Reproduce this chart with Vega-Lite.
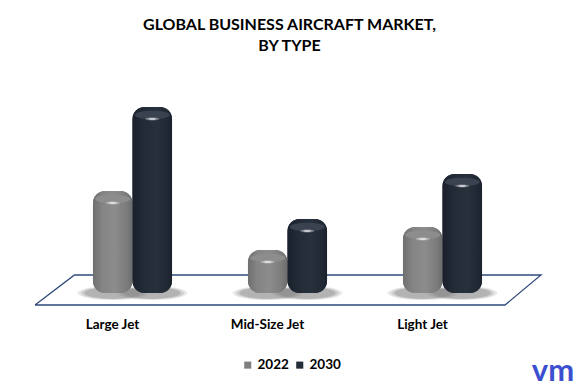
{
"$schema":"https://vega.github.io/schema/vega-lite/v6.json",
"width":579,"height":210,
"autosize":"none",
"padding":{"left":0,"right":0,"top":95,"bottom":83},
"background":"white",
"config":{"view":{"stroke":null},"font":"Lato"},
"title":{"text":["GLOBAL BUSINESS AIRCRAFT MARKET,","BY TYPE"],"font":"Lato","fontSize":16,"fontWeight":"bold","color":"#000000","anchor":"middle","lineHeight":21,"offset":41,"dx":0},
"datasets":{
"bars":[
{"type":"Large Jet","year":"2022","value":10.2},
{"type":"Large Jet","year":"2030","value":18.6},
{"type":"Mid-Size Jet","year":"2022","value":4.3},
{"type":"Mid-Size Jet","year":"2030","value":7.4},
{"type":"Light Jet","year":"2022","value":6.6},
{"type":"Light Jet","year":"2030","value":11.9}],
"floor":[
{"fx":35,"fy":-1.2,"k":0},{"fx":74.5,"fy":1.8,"k":1},{"fx":541,"fy":1.8,"k":2},{"fx":505,"fy":-1.2,"k":3},{"fx":35,"fy":-1.2,"k":4}],
"logo":[{"fx":553,"fy":-8.8,"t":"vm"}]
},
"resolve":{"scale":{"x":"independent"}},
"layer":[
{"data":{"name":"floor"},"mark":{"type":"line","color":"#2f4b7c","strokeWidth":1.3,"clip":false},
"encoding":{"x":{"field":"fx","type":"quantitative","scale":{"domain":[0,579],"range":[0,579],"nice":false,"zero":false},"axis":null},
"y":{"field":"fy","type":"quantitative","scale":{"domain":[-1.2,19.8],"nice":false,"zero":false},"axis":null},
"order":{"field":"k","type":"ordinal"}}},
{"data":{"name":"logo"},"mark":{"type":"text","color":"#3b4fd0","font":"Lato","fontSize":31,"fontWeight":"bold","clip":false,"baseline":"alphabetic"},
"encoding":{"x":{"field":"fx","type":"quantitative","scale":{"domain":[0,579],"range":[0,579],"nice":false,"zero":false},"axis":null},
"y":{"field":"fy","type":"quantitative","scale":{"domain":[-1.2,19.8],"nice":false,"zero":false},"axis":null},
"text":{"field":"t","type":"nominal"}}},
{"data":{"name":"bars"},
"encoding":{
"x":{"field":"type","type":"nominal","sort":["Large Jet","Mid-Size Jet","Light Jet"],
"scale":{"range":[55,520],"paddingInner":0.49,"paddingOuter":0.245},
"axis":{"title":null,"labelAngle":0,"labelOffset":-20,"labelPadding":12,"labelFontSize":13.5,"labelFontWeight":"bold","labelColor":"#000000","labelFont":"Lato","domain":false,"ticks":false}},
"xOffset":{"field":"year","type":"nominal","sort":["2022","2030"]},
"y":{"field":"value","type":"quantitative","scale":{"domain":[-1.2,19.8],"nice":false,"zero":false},"axis":null}
},
"layer":[
{"mark":{"type":"point","filled":true,"opacity":0.18,"size":4900,"shape":"M-1,0A1,0.2,0,1,1,1,0A1,0.2,0,1,1,-1,0Z","clip":false,"color":"#808080"},"encoding":{"y":{"datum":0}}},
{"mark":{"type":"point","filled":true,"opacity":0.25,"size":4000,"shape":"M-1,0A1,0.2,0,1,1,1,0A1,0.2,0,1,1,-1,0Z","clip":false,"color":"#808080"},"encoding":{"y":{"datum":0}}},
{"mark":{"type":"point","filled":true,"opacity":0.35,"size":3200,"shape":"M-1,0A1,0.2,0,1,1,1,0A1,0.2,0,1,1,-1,0Z","clip":false,"color":"#808080"},"encoding":{"y":{"datum":0}}},
{"mark":{"type":"bar","cornerRadius":12},
"encoding":{"y2":{"datum":0},
"color":{"field":"year","type":"nominal","scale":{"domain":["2022","2030"],"range":["#7f7f7f","#222b38"]},
"legend":{"orient":"none","direction":"horizontal","legendX":241,"legendY":263,"title":null,"symbolType":"square","symbolSize":50,"labelFont":"Lato","labelFontSize":13.5,"labelFontWeight":"bold","labelColor":"#000000","columnPadding":4,"labelOffset":3}}}},
{"transform":[{"filter":"datum.year=='2022'"}],
"mark":{"type":"bar","cornerRadius":12,"color":{"gradient":"linear","x1":0,"x2":1,"y1":0,"y2":0,"stops":[{"offset":0,"color":"#6f6f6f"},{"offset":0.25,"color":"#858585"},{"offset":0.55,"color":"#8c8c8c"},{"offset":0.85,"color":"#7c7c7c"},{"offset":1,"color":"#6c6c6c"}]}},
"encoding":{"y2":{"datum":0}}},
{"transform":[{"filter":"datum.year=='2030'"}],
"mark":{"type":"bar","cornerRadius":12,"color":{"gradient":"linear","x1":0,"x2":1,"y1":0,"y2":0,"stops":[{"offset":0,"color":"#1a212c"},{"offset":0.3,"color":"#232b37"},{"offset":0.6,"color":"#28303c"},{"offset":0.9,"color":"#202833"},{"offset":1,"color":"#1a212c"}]}},
"encoding":{"y2":{"datum":0}}},
{"transform":[{"filter":"datum.year=='2022'"}],
"mark":{"type":"point","filled":true,"opacity":1,"size":1225,"yOffset":8,"shape":"M-1,0A1,0.24,0,1,1,1,0A1,0.24,0,1,1,-1,0Z","color":"#8d8d8d"}},
{"transform":[{"filter":"datum.year=='2030'"}],
"mark":{"type":"point","filled":true,"opacity":1,"size":1225,"yOffset":8,"shape":"M-1,0A1,0.24,0,1,1,1,0A1,0.24,0,1,1,-1,0Z","color":"#3a4250"}},
{"mark":{"type":"point","filled":true,"opacity":0.35,"size":200,"yOffset":12,"shape":"M-1,0A1,0.2,0,1,1,1,0A1,0.2,0,1,1,-1,0Z","color":"#f4f6f8"}},
{"mark":{"type":"point","filled":true,"opacity":0.85,"size":70,"yOffset":12,"shape":"M-1,0A1,0.2,0,1,1,1,0A1,0.2,0,1,1,-1,0Z","color":"#f4f6f8"}}
]}
]
}
